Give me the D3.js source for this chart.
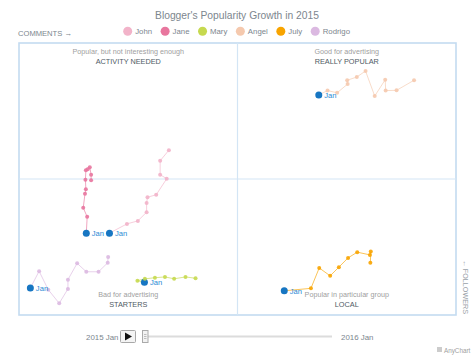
<!DOCTYPE html>
<html><head><meta charset="utf-8">
<script src="https://cdn.jsdelivr.net/npm/d3@7"></script>
<style>body{margin:0;background:#fff}svg{display:block;font-family:"Liberation Sans",Arial,sans-serif}</style>
</head><body><svg id="c" width="474" height="355"></svg>
<script>
const title = "Blogger's Popularity Growth in 2015";
const seriesNames = ["John","Jane","Mary","Angel","July","Rodrigo"];
const seriesColors = ["#f2b3c9","#e8769e","#c6d94f","#f5c9ae","#f8a400","#dbb9e1"];
// comments (x) and followers (y), month by month starting in Jan
const johnX = [20.7,24.7,27.2,29.2,29.2,29.4,31.4,33.8,32.3,32.3,34.3];
const johnY = [30.1,33.5,34.6,37.8,41.2,43.3,44.2,50.1,51.6,56.7,60.6];
const janeX = [15.4,15.6,14.7,15.1,15.3,15.2,15.3,15.7,16.2,16.5,16.5];
const janeY = [30.1,36.1,39.4,44.6,46.2,49.7,53.2,53.6,54.3,51.6,49.5];
const maryX = [28.7,27.1,28.8,31.1,33.4,35.5,38.1,40.4];
const maryY = [12.0,12.6,13.3,13.7,14.0,13.3,14.0,13.5];
const angelX = [68.6,70.6,72.8,75.2,75.1,77.3,79.3,81.4,83.8,83.9,86.4,90.4];
const angelY = [80.9,82.5,81.7,84.9,86.3,87.5,89.7,80.5,86.5,82.5,82.6,86.3];
const julyX = [60.7,66.8,68.7,71.2,73.2,75.3,77.4,80.3,80.5,80.4];
const julyY = [8.9,9.8,17.3,14.4,17.6,21.0,23.1,22.1,23.3,19.2];
const rodrigoX = [2.6,4.6,6.7,9.2,11.2,11.2,13.3,15.4,18.2,20.3,20.4];
const rodrigoY = [9.9,16.1,9.3,4.3,9.6,13.0,19.0,15.9,15.9,19.2,21.3];
const quadrantSub = ["Popular, but not interesting enough","Good for advertising","Bad for advertising","Popular in particular group"];
const quadrantMain = ["ACTIVITY NEEDED","REALLY POPULAR","STARTERS","LOCAL"];
const xTitle = "COMMENTS \u2192";
const yTitle = "\u2190 FOLLOWERS";
const sliderStart = "2015 Jan", sliderEnd = "2016 Jan";
const currentLabel = "Jan";

const allX = [johnX,janeX,maryX,angelX,julyX,rodrigoX];
const allY = [johnY,janeY,maryY,angelY,julyY,rodrigoY];

const svg = d3.select("#c");
const L=19,R=456,T=43,B=315;
const x = d3.scaleLinear().domain([0,100]).range([L,R]);
const y = d3.scaleLinear().domain([0,100]).range([B,T]);

svg.append("text").attr("x",237).attr("y",18.5).attr("text-anchor","middle")
  .attr("font-size",10.3).attr("fill","#7c868e").text(title);
svg.append("text").attr("x",18).attr("y",35.5).attr("font-size",7.6).attr("fill","#7c868e").text(xTitle);

// legend
let lx = 127.7;
const lg = svg.append("g");
seriesNames.forEach((n,i)=>{
  lg.append("circle").attr("cx",lx).attr("cy",31.3).attr("r",4.5).attr("fill",seriesColors[i]);
  const t = lg.append("text").attr("x",lx+7.5).attr("y",34.2).attr("font-size",7.8).attr("fill","#7c868e").text(n);
  lx += 7.5 + t.node().getComputedTextLength() + 13;
});

// frame & quadrant lines
svg.append("rect").attr("x",L).attr("y",T).attr("width",R-L).attr("height",B-T)
  .attr("fill","none").attr("stroke","#c4dbf1").attr("stroke-width",1.6);
svg.append("line").attr("x1",x(50)).attr("x2",x(50)).attr("y1",T).attr("y2",B).attr("stroke","#d3e5f5").attr("stroke-width",1.2);
svg.append("line").attr("x1",L).attr("x2",R).attr("y1",y(50)).attr("y2",y(50)).attr("stroke","#d3e5f5").attr("stroke-width",1.2);

// quadrant labels
const qcx = [x(25),x(75),x(25),x(75)];
const qsy = [53.5,53.5,296.5,296.5];
quadrantSub.forEach((s,i)=>{
  svg.append("text").attr("x",qcx[i]).attr("y",qsy[i]).attr("text-anchor","middle").attr("font-size",7.2).attr("fill","#a0a0a0").text(s);
  svg.append("text").attr("x",qcx[i]).attr("y",qsy[i]+10).attr("text-anchor","middle").attr("font-size",7.3).attr("fill","#4f5a64").text(quadrantMain[i]);
});

// y title
svg.append("text").attr("transform","translate(462.5,314) rotate(90)").attr("text-anchor","end")
  .attr("font-size",7.2).attr("fill","#9aa2a9").text(yTitle);

// series
const line = d3.line().x(d=>x(d[0])).y(d=>y(d[1]));
const pts = allX.map((xs,i)=>xs.map((v,j)=>[v,allY[i][j]]));
pts.forEach((p,i)=>{
  svg.append("path").attr("d",line(p)).attr("fill","none").attr("stroke",seriesColors[i])
    .attr("stroke-opacity",0.65).attr("stroke-width",1);
});
pts.forEach((p,i)=>{
  svg.append("circle").attr("cx",x(p[0][0])).attr("cy",y(p[0][1])).attr("r",3.5).attr("fill","#1776c2");
});
pts.forEach((p,i)=>{
  svg.selectAll(null).data(p.slice(1)).enter().append("circle")
    .attr("cx",d=>x(d[0])).attr("cy",d=>y(d[1])).attr("r",2)
    .attr("fill",seriesColors[i]).attr("opacity",0.9);
});
pts.forEach((p,i)=>{
  svg.append("text").attr("x",x(p[0][0])+5.5).attr("y",y(p[0][1])+3).attr("font-size",7.6).attr("fill","#2a8ad4").text(currentLabel);
});

// slider
svg.append("text").attr("x",86).attr("y",339.5).attr("font-size",7.9).attr("fill","#7c868e").text(sliderStart);
svg.append("rect").attr("x",120.5).attr("y",330.5).attr("width",15).attr("height",12).attr("rx",1)
  .attr("fill","#f4f4f4").attr("stroke","#a8a8a8");
svg.append("path").attr("d","M125,332.5 L132,336.5 L125,340.5 Z").attr("fill","#111");
svg.append("line").attr("x1",148).attr("x2",332).attr("y1",336.5).attr("y2",336.5).attr("stroke","#dcdcdc").attr("stroke-width",2);
svg.append("rect").attr("x",142.5).attr("y",330.5).attr("width",5.5).attr("height",12).attr("fill","#f2f2f2").attr("stroke","#aaa");
[334.5,336.5,338.5].forEach(v=>svg.append("line").attr("x1",144).attr("x2",146.5).attr("y1",v).attr("y2",v).attr("stroke","#999").attr("stroke-width",0.6));
svg.append("text").attr("x",341).attr("y",339.5).attr("font-size",7.9).attr("fill","#7c868e").text(sliderEnd);

// credit
svg.append("rect").attr("x",437).attr("y",347).attr("width",5).attr("height",5).attr("fill","#ccc");
svg.append("text").attr("x",444).attr("y",352.5).attr("font-size",6.3).attr("fill","#a0a0a0").text("AnyChart");
</script></body></html>
